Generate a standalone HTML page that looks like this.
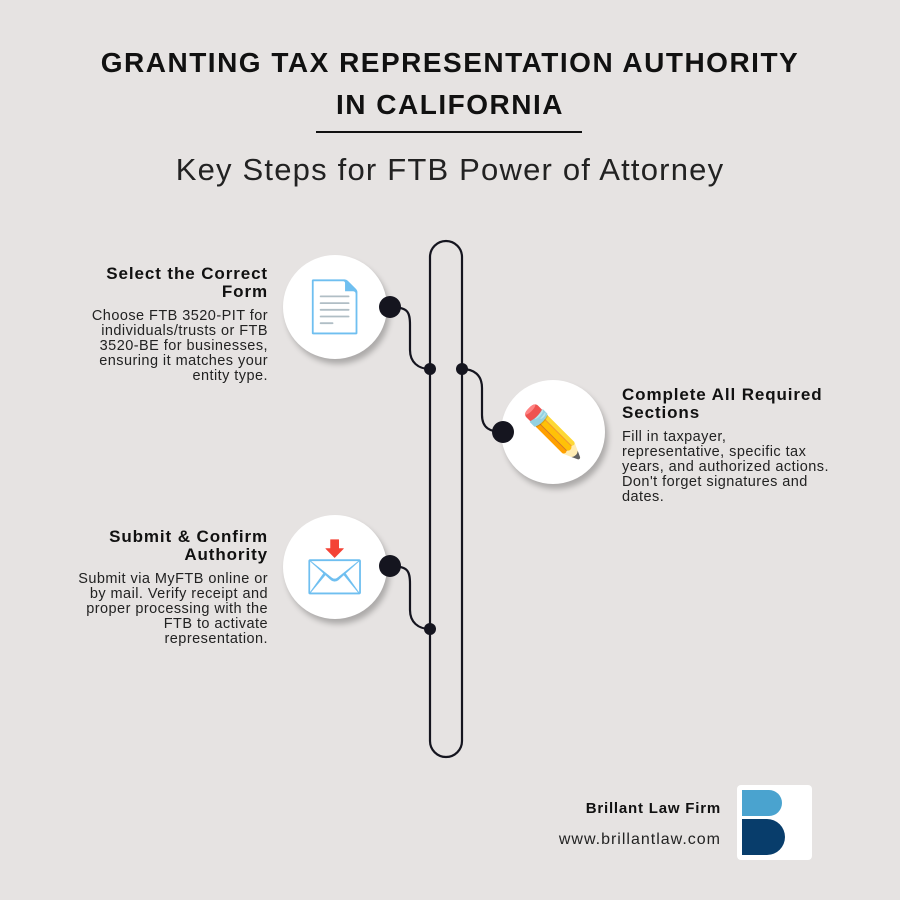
<!DOCTYPE html>
<html><head><meta charset="utf-8"><style>
html,body{margin:0;padding:0;}
body{width:900px;height:900px;background:#e6e3e2;position:relative;overflow:hidden;font-family:"Liberation Sans","DejaVu Sans",sans-serif;color:#111;}
.abs{position:absolute;}
h1{position:absolute;left:0;width:900px;top:42px;margin:0;text-align:center;font-size:28px;line-height:42px;font-weight:900;letter-spacing:1.5px;color:#111;}
.sub{left:0;width:900px;top:152px;text-align:center;font-size:31px;letter-spacing:1.2px;color:#222;}
.circ{width:104px;height:104px;border-radius:50%;background:#fff;box-shadow:3px 5px 6px rgba(0,0,0,0.25);display:flex;align-items:center;justify-content:center;font-size:50px;}
.tt{font-weight:bold;font-size:17px;line-height:18px;letter-spacing:0.9px;white-space:nowrap;}
.tx{font-size:14.5px;line-height:15px;color:#222;letter-spacing:0.45px;white-space:nowrap;}
.r{text-align:right;}
</style></head><body>
<h1>GRANTING TAX REPRESENTATION AUTHORITY<br>IN CALIFORNIA</h1>
<div class="abs" style="left:316px;top:131px;width:266px;height:2px;background:#111"></div>
<div class="abs sub">Key Steps for FTB Power of Attorney</div>

<svg class="abs" style="left:0;top:0" width="900" height="900">
<g fill="none" stroke="#15151f" stroke-width="2.2">
<rect x="430" y="241" width="32" height="516" rx="16"/>
<path d="M390 307 C408 307 410 312 410 325 V350 C410 362 418 369 430 369"/>
<path d="M462 369 C474 369 482 375 482 388 V415 C482 428 490 432 503 432"/>
<path d="M390 566 C408 566 410 571 410 584 V610 C410 622 418 629 430 629"/>
</g>
<g fill="#15151f">
<circle cx="430" cy="369" r="6"/><circle cx="462" cy="369" r="6"/><circle cx="430" cy="629" r="6"/>
</g>
</svg>

<div class="abs circ" style="left:283px;top:255px">📄</div>
<div class="abs circ" style="left:501px;top:380px">✏️</div>
<div class="abs circ" style="left:283px;top:515px">📩</div>
<svg class="abs" style="left:0;top:0" width="900" height="900"><g fill="#15151f">
<circle cx="390" cy="307" r="11"/><circle cx="503" cy="432" r="11"/><circle cx="390" cy="566" r="11"/></g></svg>

<div class="abs r" style="left:0px;top:265px;width:268px">
<div class="tt">Select the Correct<br>Form</div>
<div class="tx" style="margin-top:8px">Choose FTB 3520-PIT for<br>individuals/trusts or FTB<br>3520-BE for businesses,<br>ensuring it matches your<br>entity type.</div>
</div>
<div class="abs" style="left:622px;top:386px;width:260px">
<div class="tt">Complete All Required<br>Sections</div>
<div class="tx" style="margin-top:8px">Fill in taxpayer,<br>representative, specific tax<br>years, and authorized actions.<br>Don't forget signatures and<br>dates.</div>
</div>
<div class="abs r" style="left:0px;top:528px;width:268px">
<div class="tt">Submit &amp; Confirm<br>Authority</div>
<div class="tx" style="margin-top:8px">Submit via MyFTB online or<br>by mail. Verify receipt and<br>proper processing with the<br>FTB to activate<br>representation.</div>
</div>

<div class="abs r" style="left:500px;top:800px;width:221px;font-weight:bold;font-size:15px;letter-spacing:0.8px">Brillant Law Firm</div>
<div class="abs r" style="left:500px;top:831px;width:221px;font-size:16px;letter-spacing:1px;color:#222">www.brillantlaw.com</div>
<div class="abs" style="left:737px;top:785px;width:75px;height:75px;background:#fff;border-radius:4px"></div>
<svg class="abs" style="left:737px;top:785px" width="75" height="75">
<path d="M5 5 H32 A13 13 0 0 1 32 31 H5 Z" fill="#4aa3cf"/>
<path d="M5 34 H30 A18 18 0 0 1 30 70 H5 Z" fill="#083d6b"/>
</svg>
</body></html>
